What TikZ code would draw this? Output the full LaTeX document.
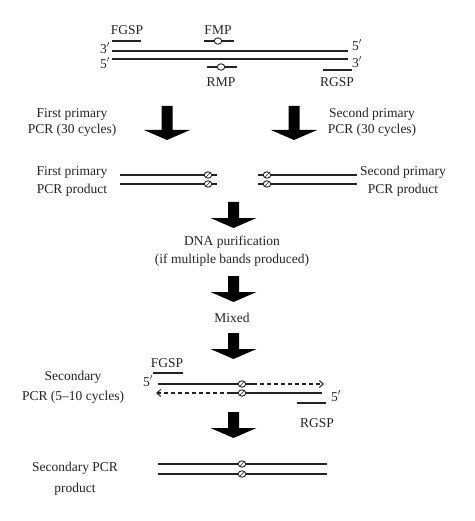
\documentclass[tikz,border=0pt]{standalone}
\usepackage{fontspec}
\setmainfont{Liberation Serif}
\usetikzlibrary{arrows.meta}
\definecolor{ink}{RGB}{35,35,35}
\tikzset{
  lbl/.style={font=\fontsize{13.5}{16}\selectfont, text=ink, inner sep=0pt, align=center},
  strand/.style={draw=ink, line width=1.1pt},
  ext/.style={draw=ink, line width=1.1pt, dash pattern=on 4pt off 3pt, -{Straight Barb[length=4pt,width=7pt,line width=1pt]}},
  pics/blockarrow/.style={code={
    \fill[black] (-5.5,0) -- (5.5,0) -- (5.5,#1-10) -- (23,#1-10) -- (0,#1)
      -- (-23,#1-10) -- (-5.5,#1-10) -- cycle;}},
  pics/mut/.style={code={\draw[ink, line width=0.9pt, fill=white] (0,0) ellipse [x radius=3.8, y radius=3.2];}},
  pics/mutslash/.style={code={\draw[ink, line width=0.9pt, fill=white] (0,0) ellipse [x radius=3.8, y radius=3.2];
     \draw[ink, line width=0.6pt] (-2,2) -- (2,-2);}}
}
\begin{document}
\begin{tikzpicture}[x=1pt,y=-1pt]
\useasboundingbox (0,0) rectangle (474,521);
% ---------- template ----------
\node[lbl] (fgsp1) at (127,30) {FGSP};
\node[lbl] (fmp) at (218,30) {FMP};
\coordinate (fg1a) at (112,41); \coordinate (fg1b) at (141,41);
\draw[strand] (fg1a) -- (fg1b);
\coordinate (fma) at (204,41); \coordinate (fmb) at (234,41);
\draw[strand] (fma) -- (fmb);
\pic at (218,41) {mut};
\node[lbl] (l3) at (105,48) {3$'$};
\node[lbl] (l5) at (105,63) {5$'$};
\node[lbl] (r5) at (357,45) {5$'$};
\node[lbl] (r3) at (357,62) {3$'$};
\coordinate (t1a) at (112,51); \coordinate (t1b) at (348,51);
\coordinate (t2a) at (112,59); \coordinate (t2b) at (348,59);
\draw[strand] (t1a) -- (t1b);
\draw[strand] (t2a) -- (t2b);
\coordinate (rma) at (207,67); \coordinate (rmb) at (237,67);
\draw[strand] (rma) -- (rmb);
\pic at (221,67) {mut};
\node[lbl] (rmp) at (221,82) {RMP};
\coordinate (rg1a) at (323,70); \coordinate (rg1b) at (352,70);
\draw[strand] (rg1a) -- (rg1b);
\node[lbl] (rgsp1) at (337,82) {RGSP};
% ---------- primary PCRs ----------
\node[lbl] (p1) at (72,122) {First primary\\PCR (30 cycles)};
\node[lbl] (p2) at (372,122) {Second primary\\PCR (30 cycles)};
\pic at (167,106) {blockarrow=34};
\pic at (294,106) {blockarrow=34};
\node[lbl] (pp1) at (72,181) {First primary\\[2pt]PCR product};
\node[lbl] (pp2) at (403,181) {Second primary\\[2pt]PCR product};
\coordinate (a1) at (120,175); \coordinate (a2) at (217,175);
\coordinate (b1) at (120,184); \coordinate (b2) at (217,184);
\draw[strand] (a1) -- (a2); \draw[strand] (b1) -- (b2);
\pic at (208,175) {mutslash}; \pic at (208,184) {mutslash};
\coordinate (c1) at (258,175); \coordinate (c2) at (357,175);
\coordinate (d1) at (258,184); \coordinate (d2) at (357,184);
\draw[strand] (c1) -- (c2); \draw[strand] (d1) -- (d2);
\pic at (267,175) {mutslash}; \pic at (267,184) {mutslash};
% ---------- purification / mixing ----------
\pic at (233.5,202) {blockarrow=26};
\node[lbl] (pur) at (232,251) {DNA purification\\[2pt](if multiple bands produced)};
\pic at (233.5,276) {blockarrow=26};
\node[lbl] (mix) at (232,318) {Mixed};
\pic at (233.5,333) {blockarrow=26};
% ---------- secondary PCR ----------
\node[lbl] (sec) at (73,387) {Secondary\\[4pt]PCR (5--10 cycles)};
\node[lbl] (fgsp2) at (167,363) {FGSP};
\coordinate (fg2a) at (153,373); \coordinate (fg2b) at (183,373);
\draw[strand] (fg2a) -- (fg2b);
\node[lbl] (s5l) at (148,381) {5$'$};
\node[lbl] (s5r) at (336,396) {5$'$};
\coordinate (u1) at (158,384); \coordinate (u2) at (253,384); \coordinate (u3) at (324,384);
\draw[strand] (u1) -- (u2);
\draw[ext] (u2) -- (u3);
\coordinate (v1) at (322,393); \coordinate (v2) at (231,393); \coordinate (v3) at (156,393);
\draw[strand] (v1) -- (v2);
\draw[ext] (v2) -- (v3);
\pic at (242,384) {mutslash}; \pic at (242,393) {mutslash};
\coordinate (rg2a) at (297,403); \coordinate (rg2b) at (326,403);
\draw[strand] (rg2a) -- (rg2b);
\node[lbl] (rgsp2) at (317,423) {RGSP};
\pic at (233.5,412) {blockarrow=26};
% ---------- final product ----------
\node[lbl] (fin) at (75,479) {Secondary PCR\\[5pt]product};
\coordinate (w1) at (158,464); \coordinate (w2) at (327,464);
\coordinate (z1) at (158,474); \coordinate (z2) at (327,474);
\draw[strand] (w1) -- (w2); \draw[strand] (z1) -- (z2);
\pic at (242,464) {mutslash}; \pic at (242,474) {mutslash};
\end{tikzpicture}
\end{document}
